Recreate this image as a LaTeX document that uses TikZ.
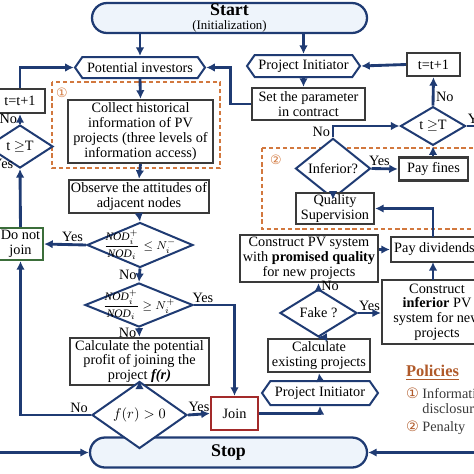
\documentclass[tikz,border=0pt]{standalone}
\usepackage{amsmath}
\usepackage{fontspec}
\setmainfont{Liberation Serif}
\newfontfamily\circfont{DejaVu Sans}
\usetikzlibrary{arrows.meta,shapes.geometric,shapes.symbols}
\definecolor{flowblue}{HTML}{1F3B73}
\definecolor{termfill}{HTML}{EEF4FB}
\definecolor{boxgray}{HTML}{3A3A3A}
\definecolor{dashorange}{HTML}{D2783E}
\definecolor{joinred}{HTML}{A32A2A}
\definecolor{skipgreen}{HTML}{3B6E3A}
\definecolor{policybrown}{HTML}{B05A2A}
\newcommand{\fitin}[1]{\makebox[0pt]{#1}}
\tikzset{
  flow/.style={draw=flowblue,line width=2pt,-{Latex[length=6pt,width=6pt]}},
  lbl/.style={inner sep=1pt,font=\fontsize{10}{10}\selectfont},
  term/.style={draw=flowblue,fill=termfill,line width=1.6pt,rounded corners=10.5pt,
    minimum width=#1*0.7pt,minimum height=21pt,align=center,inner sep=0pt},
  act/.style 2 args={draw=boxgray,line width=1.6pt,fill=white,align=center,inner sep=1pt,
    minimum width=#1*0.7pt,minimum height=#2*0.7pt},
  ask/.style 2 args={diamond,draw=flowblue,line width=1.4pt,fill=white,inner sep=0pt,
    minimum width=#1*0.7pt,minimum height=#2*0.7pt},
  hexa/.style 2 args={signal,signal to=west and east,signal pointer angle=110,
    draw=flowblue,line width=1.4pt,fill=white,inner sep=1pt,
    minimum width=#1*0.7pt,minimum height=#2*0.7pt},
  policy/.style={draw=dashorange,line width=1.4pt,dash pattern=on 3pt off 2pt},
}
\begin{document}
\begin{tikzpicture}[x=0.7pt,y=-0.7pt,font=\fontsize{10}{10.3}\selectfont]
  \useasboundingbox (0,0) rectangle (474,474);
  \clip (0,0) rectangle (474,474);

  % policy regions
  \draw[policy] (52,82) rectangle (220,168);
  \draw[policy] (262,148) rectangle (490,229);
  \node[text=dashorange,font=\circfont\fontsize{9}{9}\selectfont] (mark1) at (62,93) {①};
  \node[text=dashorange,font=\circfont\fontsize{9}{9}\selectfont] (mark2) at (276,160) {②};

  % start and stop
  \node[term=275] (start) at (229.5,18)
    {{\fontsize{12.5}{13}\selectfont\bfseries Start}\\[-1pt]{\fontsize{9}{9}\selectfont (Initialization)}};
  \node[term=277] (stop) at (228.5,452.5) {\fontsize{12.5}{13}\selectfont\bfseries Stop};

  % investor side
  \node[hexa={130}{21}] (pinv) at (140,67.5) {Potential investors};
  \node[act={50}{24}] (tinc1) at (20,101) {t=t+1};
  \node[ask={66}{43}] (tge1) at (20,146.5) {t $\ge$T};
  \node[act={145}{63}] (collect) at (140.5,131.5)
    {Collect historical\\information of PV\\projects (three levels of\\information access)};
  \node[act={140}{33}] (observe) at (139,196.5) {Observe the attitudes of\\adjacent nodes};
  \node[ask={106}{45}] (low) at (140,245)
    {\fitin{\fontsize{8}{8}\selectfont$\dfrac{\mathit{NOD}_i^{+}}{\mathit{NOD}_i}\le N_i^{-}$}};
  \node[act={45}{32},draw=skipgreen] (skip) at (20.5,244) {Do not\\join};
  \node[ask={108}{44}] (high) at (139,305)
    {\fitin{\fontsize{8}{8}\selectfont$\dfrac{\mathit{NOD}_i^{+}}{\mathit{NOD}_i}\ge N_i^{+}$}};
  \node[act={139}{47}] (profit) at (139.5,361.5)
    {Calculate the potential\\profit of joining the\\project \textbf{\textit{f(r)}}};
  \node[ask={95}{36}] (gain) at (139.5,415) {$f(r)>0$};
  \node[act={47}{33},draw=joinred] (join) at (234.5,413.5) {Join};

  % initiator side
  \node[hexa={113}{22}] (pinit1) at (303.5,66) {Project Initiator};
  \node[act={113}{32}] (setpar) at (308.5,104) {Set the parameter\\in contract};
  \node[act={53}{23}] (tinc2) at (433.5,64.5) {t=t+1};
  \node[ask={65}{23}] (tge2) at (433,126) {t $\ge$T};
  \node[ask={75}{33}] (infq) at (333,168.5) {Inferior?};
  \node[act={69}{23}] (fines) at (433.5,169) {Pay fines};
  \node[act={78}{31}] (qsup) at (335,208.5) {Quality\\Supervision};
  \node[act={87}{25}] (divid) at (434.5,249.5) {Pay dividends};
  \node[act={138}{47}] (good) at (309,258.5)
    {Construct PV system\\with \textbf{promised quality}\\for new projects};
  \node[act={110}{64}] (bad) at (437,312)
    {Construct\\\textbf{inferior} PV\\system for new\\projects};
  \node[ask={77}{30}] (fake) at (318.5,313) {Fake ?};
  \node[act={102}{33}] (exist) at (319,355.5) {Calculate\\existing projects};
  \node[hexa={116}{24}] (pinit2) at (320,393) {Project Initiator};

  % legend
  \node[anchor=west,text=policybrown,font=\fontsize{11.5}{12}\selectfont\bfseries] (poltitle)
    at (401,373) {\underline{Policies}};
  \node[anchor=west,align=left,text=boxgray] (pol1) at (401,401)
    {{\color{policybrown}\circfont ①}~Information\\\phantom{\circfont ①}~disclosure};
  \node[anchor=west,text=boxgray] (pol2) at (401,428) {{\color{policybrown}\circfont ②}~Penalty};

  % connectors, investor side
  \draw[flow] (pinv |- start.south) -- (pinv.north);
  \draw[flow] (pinv.south) -- (collect.north);
  \draw[flow] (collect.south) -- (observe.north);
  \draw[flow] (observe.south) -- (low.north);
  \draw[flow] (low.west) -- node[lbl,above,pos=0.32] (y1) {Yes} (skip.east);
  \draw[flow] (low.south) -- node[lbl,left] (n1) {No} (high.north);
  \draw[flow] (high.east) -- node[lbl,above,pos=0.22] (y2) {Yes} (join.north |- high.east) -- (join.north);
  \draw[flow] (high.south) -- node[lbl,left] (n2) {No} (profit.north);
  \draw[flow] (profit.south) -- (gain.north);
  \draw[flow] (gain.east) -- node[lbl,above] (y3) {Yes} (join.west);
  \draw[flow] (gain.west) -- node[lbl,above,pos=0.17] (n3) {No} (skip.south |- gain.west) -- (skip.south);
  \draw[flow] (skip.north) -- (tge1.south);
  \draw[flow] (tge1.north) -- node[lbl,left] (n4) {No} (tinc1.south);
  \draw[flow] (tinc1.north) |- (pinv.west);
  \draw[flow] (tge1.west) -- (-30,146.5) |- (stop.west);
  \node[lbl,anchor=north east] (y4) at (15,157) {Yes};

  % connectors, initiator side
  \draw[flow] (pinit1 |- start.south) -- (pinit1.north);
  \draw[flow] (pinit1.south) -- (pinit1.south |- setpar.north);
  \draw[flow] (setpar.west) -- ++(-20,0) |- (pinv.east);
  \draw[flow] (tinc2.west) -- (pinit1.east);
  \draw[flow] (tge2.north) -- node[lbl,right,pos=0.3] (n5) {No} (tinc2.south);
  \draw[flow] (tge2.east) -- node[lbl,above,pos=0.35] (y5) {Yes} (500,126) |- (stop.east);
  \draw[flow] (infq.north) -- node[lbl,left,pos=0.45] (n6) {No} (infq.north |- tge2.west) -- (tge2.west);
  \draw[flow] (infq.east) -- node[lbl,above,pos=0.3] (y6) {Yes} (fines.west);
  \draw[flow] (fines.north -| tge2) -- (tge2.south);
  \draw[flow] (qsup.north -| infq) -- (infq.south);
  \draw[flow] (433,237) |- (qsup.east);
  \draw[flow] (good.east |- divid.west) -- (divid.west);
  \draw[flow] (433,280) -- (433,262);
  \draw[flow] (fake.north) -- node[lbl,right] (n7) {No} (fake.north |- good.south);
  \draw[flow] (fake.east) -- node[lbl,above] (y7) {Yes} (bad.west |- fake.east);
  \draw[flow] (exist.north) -- (fake.south);
  \draw[flow] (pinit2.north) -- (exist.south);
  \draw[flow] (join.east) -| (pinit2.south);
\end{tikzpicture}
\end{document}
